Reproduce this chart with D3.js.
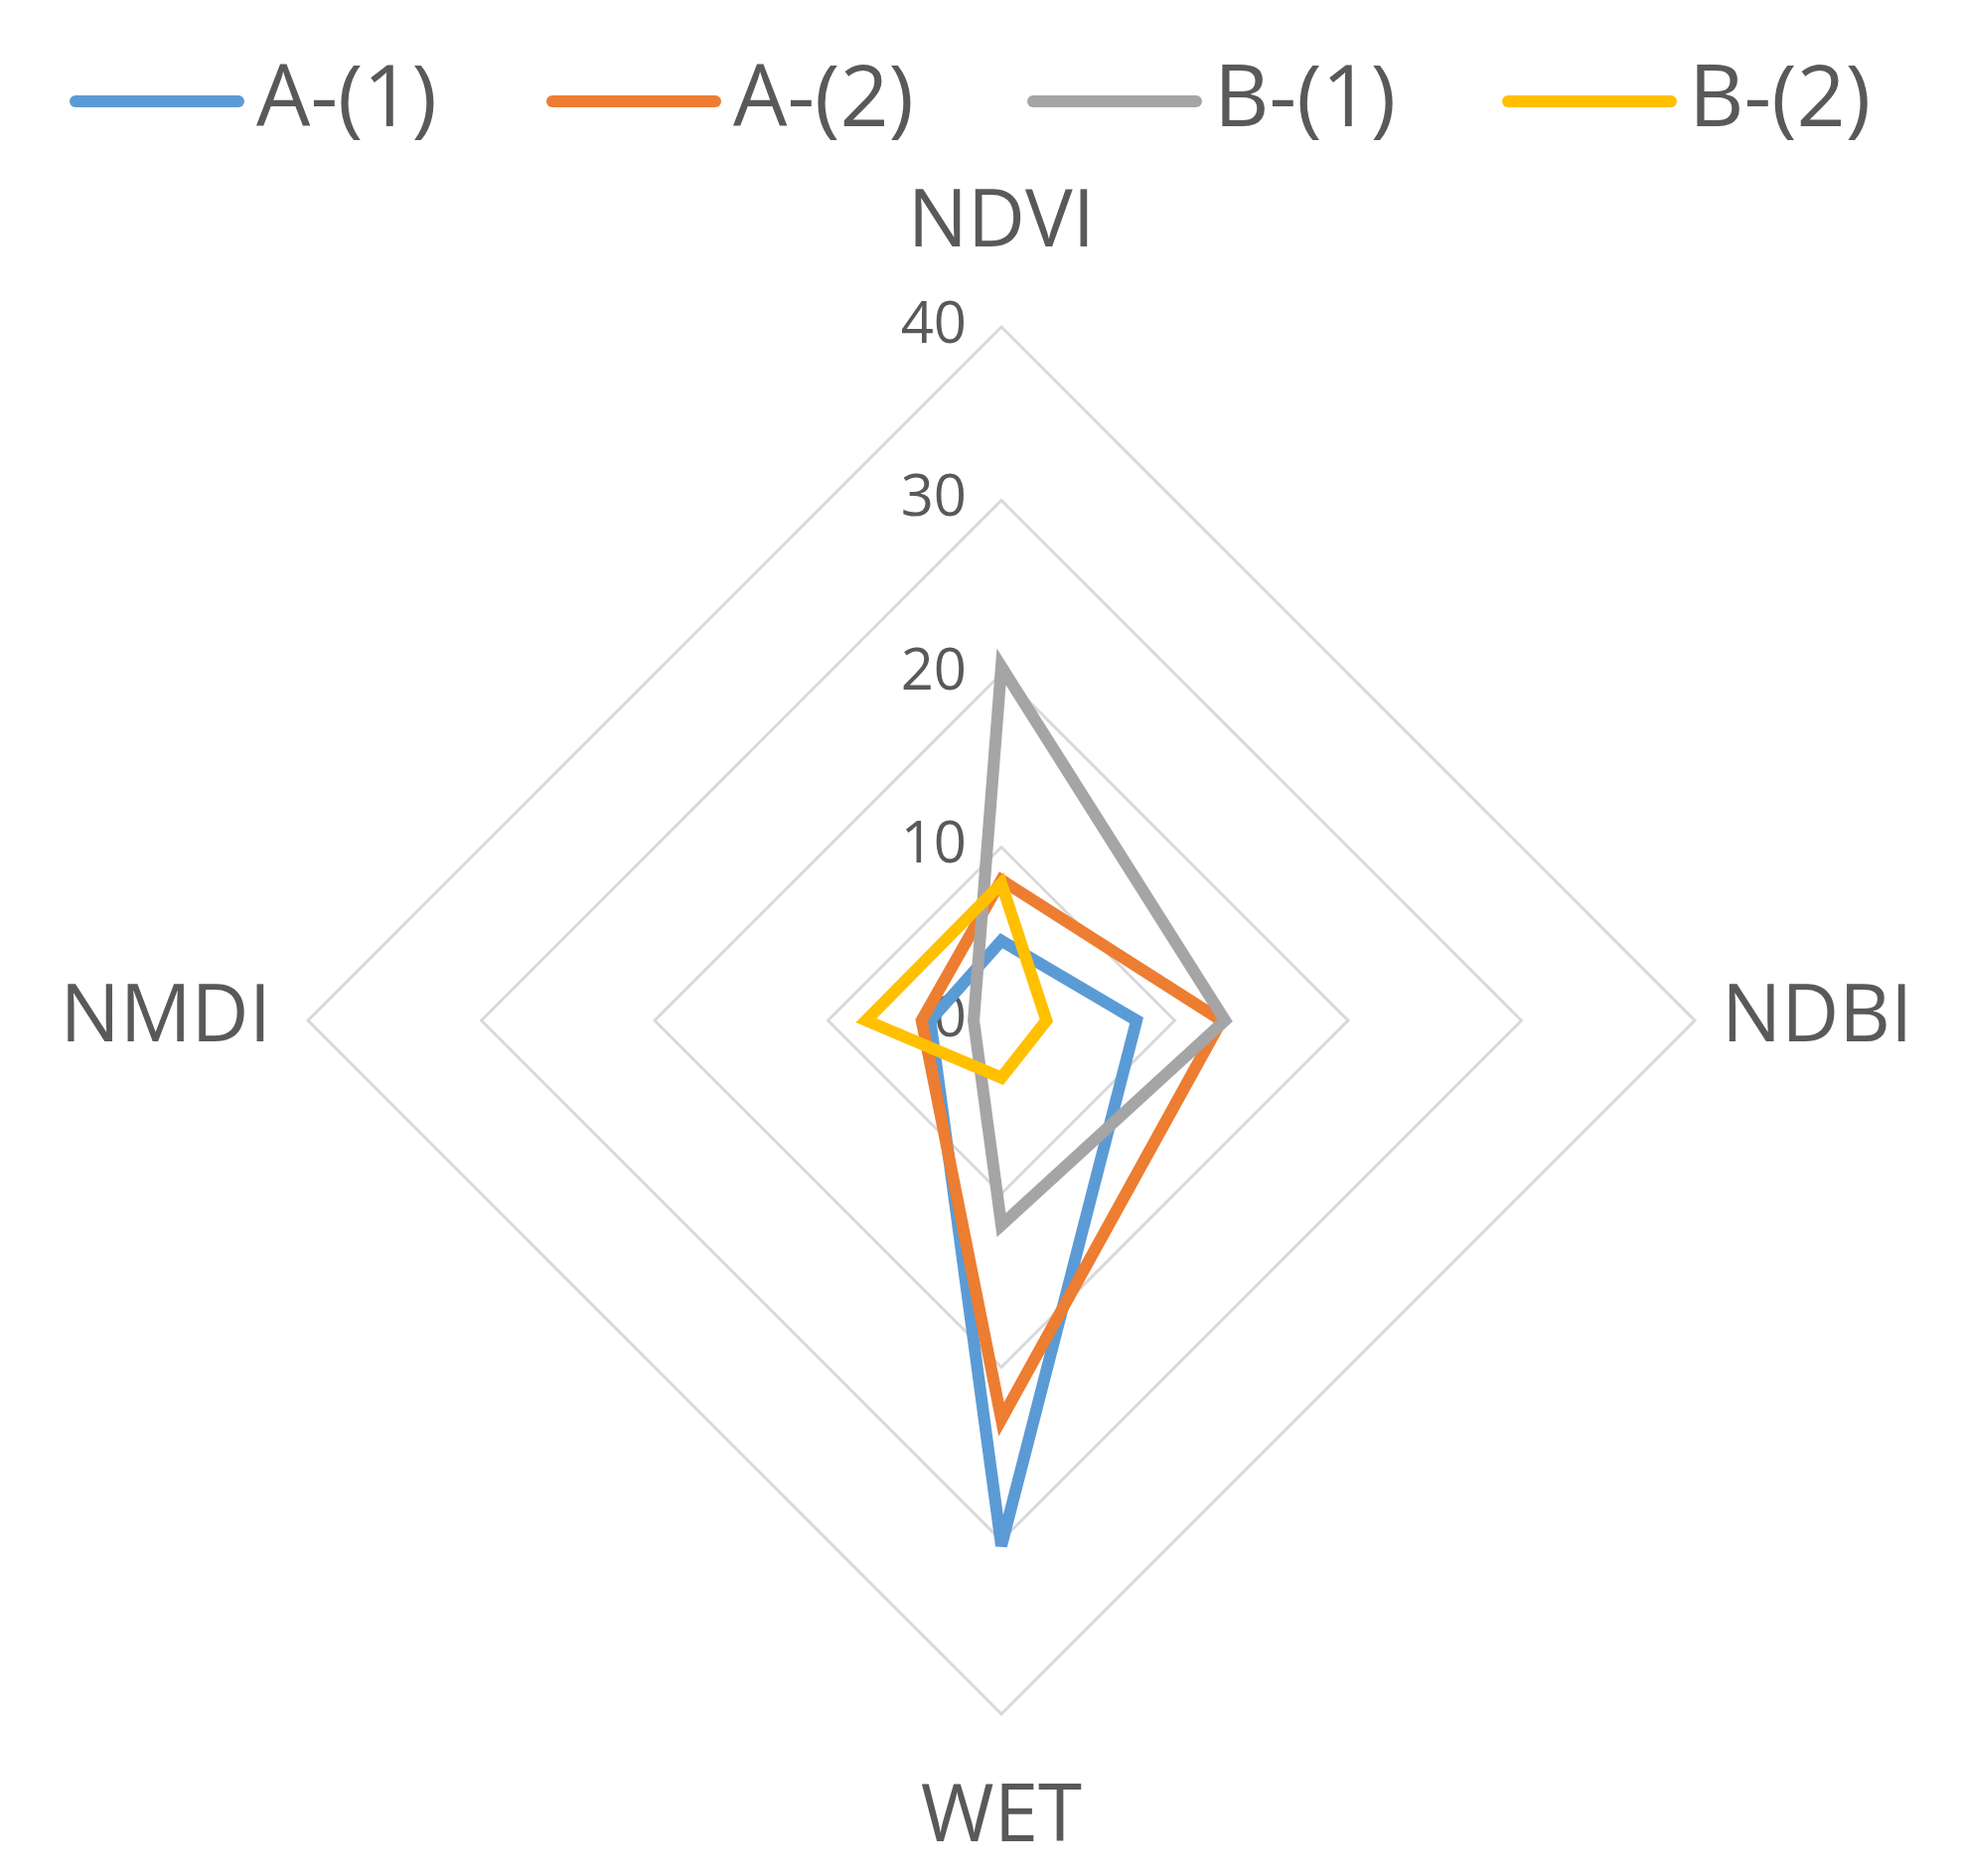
<!DOCTYPE html>
<html><head><meta charset="utf-8">
<script src="https://cdn.jsdelivr.net/npm/d3@7"></script>
<style>body{margin:0;background:#fff}</style></head>
<body><div id="chart"></div>
<script>
const axes = ["NDVI", "NDBI", "WET", "NMDI"];
const seriesNames = ["A-(1)", "A-(2)", "B-(1)", "B-(2)"];
const seriesColors = ["#5B9BD5", "#ED7D31", "#A5A5A5", "#FFC000"];
const a1 = [4.6, 7.8, 30.3, 4.1];
const a2 = [8.1, 12.7, 23, 4.6];
const b1 = [20.4, 12.9, 11.8, 1.6];
const b2 = [7.9, 2.6, 3.3, 7.8];
const ticks = [0, 10, 20, 30, 40];

const W = 1976, H = 1888, cx = 1008, cy = 1027;
const svg = d3.select("#chart").append("svg").attr("width", W).attr("height", H)
  .style("font-family", "'Open Sans', sans-serif");

const r = d3.scaleLinear().domain([0, 40]).range([0, 698]);
const angle = i => -Math.PI / 2 + i * Math.PI / 2;
const pt = (v, i) => [cx + r(v) * Math.cos(angle(i)), cy + r(v) * Math.sin(angle(i))];

// grid
ticks.slice(1).forEach(t => {
  svg.append("polygon")
    .attr("points", axes.map((a, i) => pt(t, i).join(",")).join(" "))
    .attr("fill", "none").attr("stroke", "#d9d9d9").attr("stroke-width", 3);
});

// tick labels
ticks.forEach(t => {
  svg.append("text").attr("x", cx - 35).attr("y", cy - r(t))
    .attr("text-anchor", "end").attr("dominant-baseline", "middle")
    .attr("font-size", 58).attr("fill", "#595959").text(t);
});

// axis labels
const labelPos = [[cx, cy - 800, "middle"], [cx + 725, cy, "start"], [cx, cy + 805, "middle"], [cx - 735, cy, "end"]];
axes.forEach((a, i) => {
  svg.append("text").attr("x", labelPos[i][0]).attr("y", labelPos[i][1])
    .attr("text-anchor", labelPos[i][2]).attr("dominant-baseline", "middle")
    .attr("font-size", 80).attr("fill", "#595959").text(a);
});

// series
[a1, a2, b1, b2].forEach((vals, s) => {
  svg.append("polygon")
    .attr("points", vals.map((v, i) => pt(v, i).join(",")).join(" "))
    .attr("fill", "none").attr("stroke", seriesColors[s])
    .attr("stroke-width", 12).attr("stroke-linejoin", "miter");
});

// legend
const legX = [76, 556, 1040, 1518];
seriesNames.forEach((n, s) => {
  svg.append("line").attr("x1", legX[s]).attr("x2", legX[s] + 164)
    .attr("y1", 102).attr("y2", 102)
    .attr("stroke", seriesColors[s]).attr("stroke-width", 12).attr("stroke-linecap", "round");
  svg.append("text").attr("x", legX[s] + 182).attr("y", 104)
    .attr("dominant-baseline", "middle").attr("font-size", 86).attr("fill", "#595959").text(n);
});
</script></body></html>
